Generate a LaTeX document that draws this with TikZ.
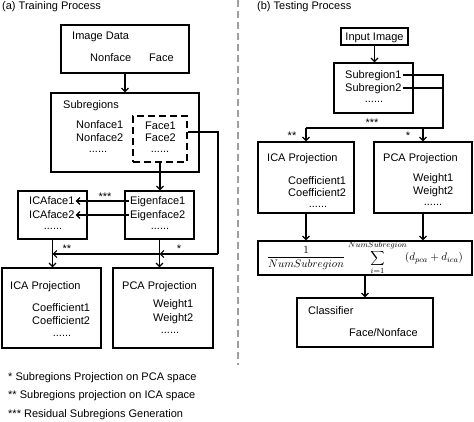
\documentclass[tikz,border=0pt]{standalone}
\usepackage{fontspec}
\setmainfont{Liberation Sans}
\usetikzlibrary{arrows.meta}
\tikzset{
  box/.style={draw, line width=1.2pt, inner sep=0pt},
  dbox/.style={draw, line width=1.2pt, dash pattern=on 7pt off 4pt, inner sep=0pt},
  txt/.style={inner sep=0pt, anchor=west, text height=7.9pt, text depth=0pt, font=\fontsize{11}{13}\selectfont},
  dots/.style={inner sep=0pt, anchor=base, font=\fontsize{11}{13}\selectfont},
  star/.style={inner sep=0pt, anchor=base, font=\fontsize{11}{13}\selectfont},
  conn/.style={line width=1.2pt},
  arr/.style={line width=1.2pt, -{Straight Barb[length=3.5pt,width=7pt]}},
  sep/.style={draw=gray!75, line width=1.6pt, dash pattern=on 7pt off 4pt},
}
\begin{document}
\begin{tikzpicture}[x=1pt,y=-1pt]
\useasboundingbox (0,0) rectangle (474,422);
% separator
\coordinate (sepT) at (238,0);
\coordinate (sepB) at (238,365);
\draw[sep] (sepT) -- (sepB);

% ===== Left: Training =====
\node[txt] (ta) at (2,6) {(a) Training Process};

\node[box, minimum width=128, minimum height=48] (img) at (125,49) {};
\node[txt] (imgt) at (72,36) {Image Data};
\node[txt] (imgn) at (90,58) {Nonface};
\node[txt] (imgf) at (149,58) {Face};

\node[box, minimum width=148, minimum height=79] (subr) at (125,132.5) {};
\node[txt] (subrt) at (63,105) {Subregions};
\node[txt] (nf1) at (76,125) {Nonface1};
\node[txt] (nf2) at (76,138) {Nonface2};
\node[dots] (nfd) at (98,153) {......};
\node[dbox, minimum width=54, minimum height=46] (fbox) at (160,139) {};
\node[txt] (f1) at (145,126) {Face1};
\node[txt] (f2) at (145,138) {Face2};
\node[dots] (fd) at (160,153) {......};

\node[box, minimum width=69, minimum height=48] (icaf) at (52.5,215) {};
\node[txt] (icaf1) at (29,201) {ICAface1};
\node[txt] (icaf2) at (29,215) {ICAface2};
\node[dots] (icafd) at (53,230) {......};
\node[box, minimum width=69, minimum height=48] (eigf) at (159.5,215) {};
\node[txt] (eig1) at (130,201) {Eigenface1};
\node[txt] (eig2) at (130,215) {Eigenface2};
\node[dots] (eigd) at (160,230) {......};
\node[star] (s3a) at (105,201) {***};

\node[box, minimum width=99, minimum height=80] (icaL) at (51.5,308) {};
\node[txt] (icaLt) at (10,286) {ICA Projection};
\node[txt] (icaL1) at (32,308) {Coefficient1};
\node[txt] (icaL2) at (32,321) {Coefficient2};
\node[dots] (icaLd) at (62,336) {......};
\node[box, minimum width=100, minimum height=80] (pcaL) at (163,308) {};
\node[txt] (pcaLt) at (122,286) {PCA Projection};
\node[txt] (pcaL1) at (153,304) {Weight1};
\node[txt] (pcaL2) at (153,318) {Weight2};
\node[dots] (pcaLd) at (170,333) {......};

\node[star] (s2a) at (67,253) {**};
\node[star] (s1a) at (179,253) {*};

\node[txt] (fn1) at (8,377) {* Subregions Projection on PCA space};
\node[txt] (fn2) at (8,395) {** Subregions projection on ICA space};
\node[txt] (fn3) at (8,414) {*** Residual Subregions Generation};

% left connectors
\coordinate (c1) at (218,132);
\coordinate (c2) at (218,254);
\draw[arr] (img.south) -- (subr.north);
\draw[arr] (fbox.south) -- (fbox.south |- eigf.north);
\draw[arr] ([xshift=-1pt]eig1.west) -- ([xshift=1pt]icaf1.east);
\draw[arr] ([xshift=-1pt]eig2.west) -- ([xshift=1pt]icaf2.east);
\draw[conn] (fbox.east |- c1) -- (c1) -- (c2);
\draw[arr] (c2) -- (eigf.south |- c2);
\draw[arr] (eigf.south |- c2) -- (icaf.south |- c2);
\draw[arr] (icaf.south) -- (icaf.south |- icaL.north);
\draw[arr] (eigf.south) -- (eigf.south |- pcaL.north);

% ===== Right: Testing =====
\node[txt] (tb) at (257,6) {(b) Testing Process};

\node[box, minimum width=67, minimum height=17] (inp) at (374.5,36.5) {};
\node[txt, anchor=center] (inpt) at (374.5,36.5) {Input Image};

\node[box, minimum width=79, minimum height=50] (subR) at (373.5,88) {};
\node[txt] (sr1) at (345,75) {Subregion1};
\node[txt] (sr2) at (345,88) {Subregion2};
\node[dots] (srd) at (374,103) {......};

\node[star] (s3b) at (372,127) {***};
\node[star] (s2b) at (292,140) {**};
\node[star] (s1b) at (408,140) {*};

\node[box, minimum width=96, minimum height=71] (icaR) at (306,177.5) {};
\node[txt] (icaRt) at (267,158) {ICA Projection};
\node[txt] (icaR1) at (288,181) {Coefficient1};
\node[txt] (icaR2) at (288,193) {Coefficient2};
\node[dots] (icaRd) at (318,208) {......};
\node[box, minimum width=98, minimum height=71] (pcaR) at (423,177.5) {};
\node[txt] (pcaRt) at (383,158) {PCA Projection};
\node[txt] (pcaR1) at (413,178) {Weight1};
\node[txt] (pcaR2) at (413,191) {Weight2};
\node[dots] (pcaRd) at (433,206) {......};

\node[box, minimum width=214, minimum height=34] (form) at (365,258) {};
\node[inner sep=0pt, font=\fontsize{11}{13}\selectfont] (ffrac) at (306,258) {$\displaystyle\frac{1}{NumSubregion}$};
\node[inner sep=0pt, font=\fontsize{11}{13}\selectfont] (fsum) at (377.5,258) {$\displaystyle\sum_{i=1}^{NumSubregion}$};
\node[inner sep=0pt, font=\fontsize{11}{13}\selectfont] (fpar) at (434,258) {$(d_{pca}+d_{ica})$};

\node[box, minimum width=136, minimum height=49] (cls) at (365,322.5) {};
\node[txt] (clst) at (308,311) {Classifier};
\node[txt] (clsf) at (349,333) {Face/Nonface};

% right connectors
\coordinate (c3) at (443,75);
\coordinate (c4) at (443,128);
\draw[arr] (inp.south) -- (inp.south |- subR.north);
\draw[conn] ([xshift=1pt]sr1.east) -- (c3) -- (c4) -- (icaR.north |- c4);
\draw[conn] ([xshift=1pt]sr2.east) -- (sr2.east -| c3);
\draw[arr] (icaR.north |- c4) -- (icaR.north);
\draw[arr] (pcaR.north |- c4) -- (pcaR.north);
\draw[arr] (icaR.south) -- (icaR.south |- form.north);
\draw[arr] (pcaR.south) -- (pcaR.south |- form.north);
\draw[arr] (form.south) -- (cls.north);
\end{tikzpicture}
\end{document}
